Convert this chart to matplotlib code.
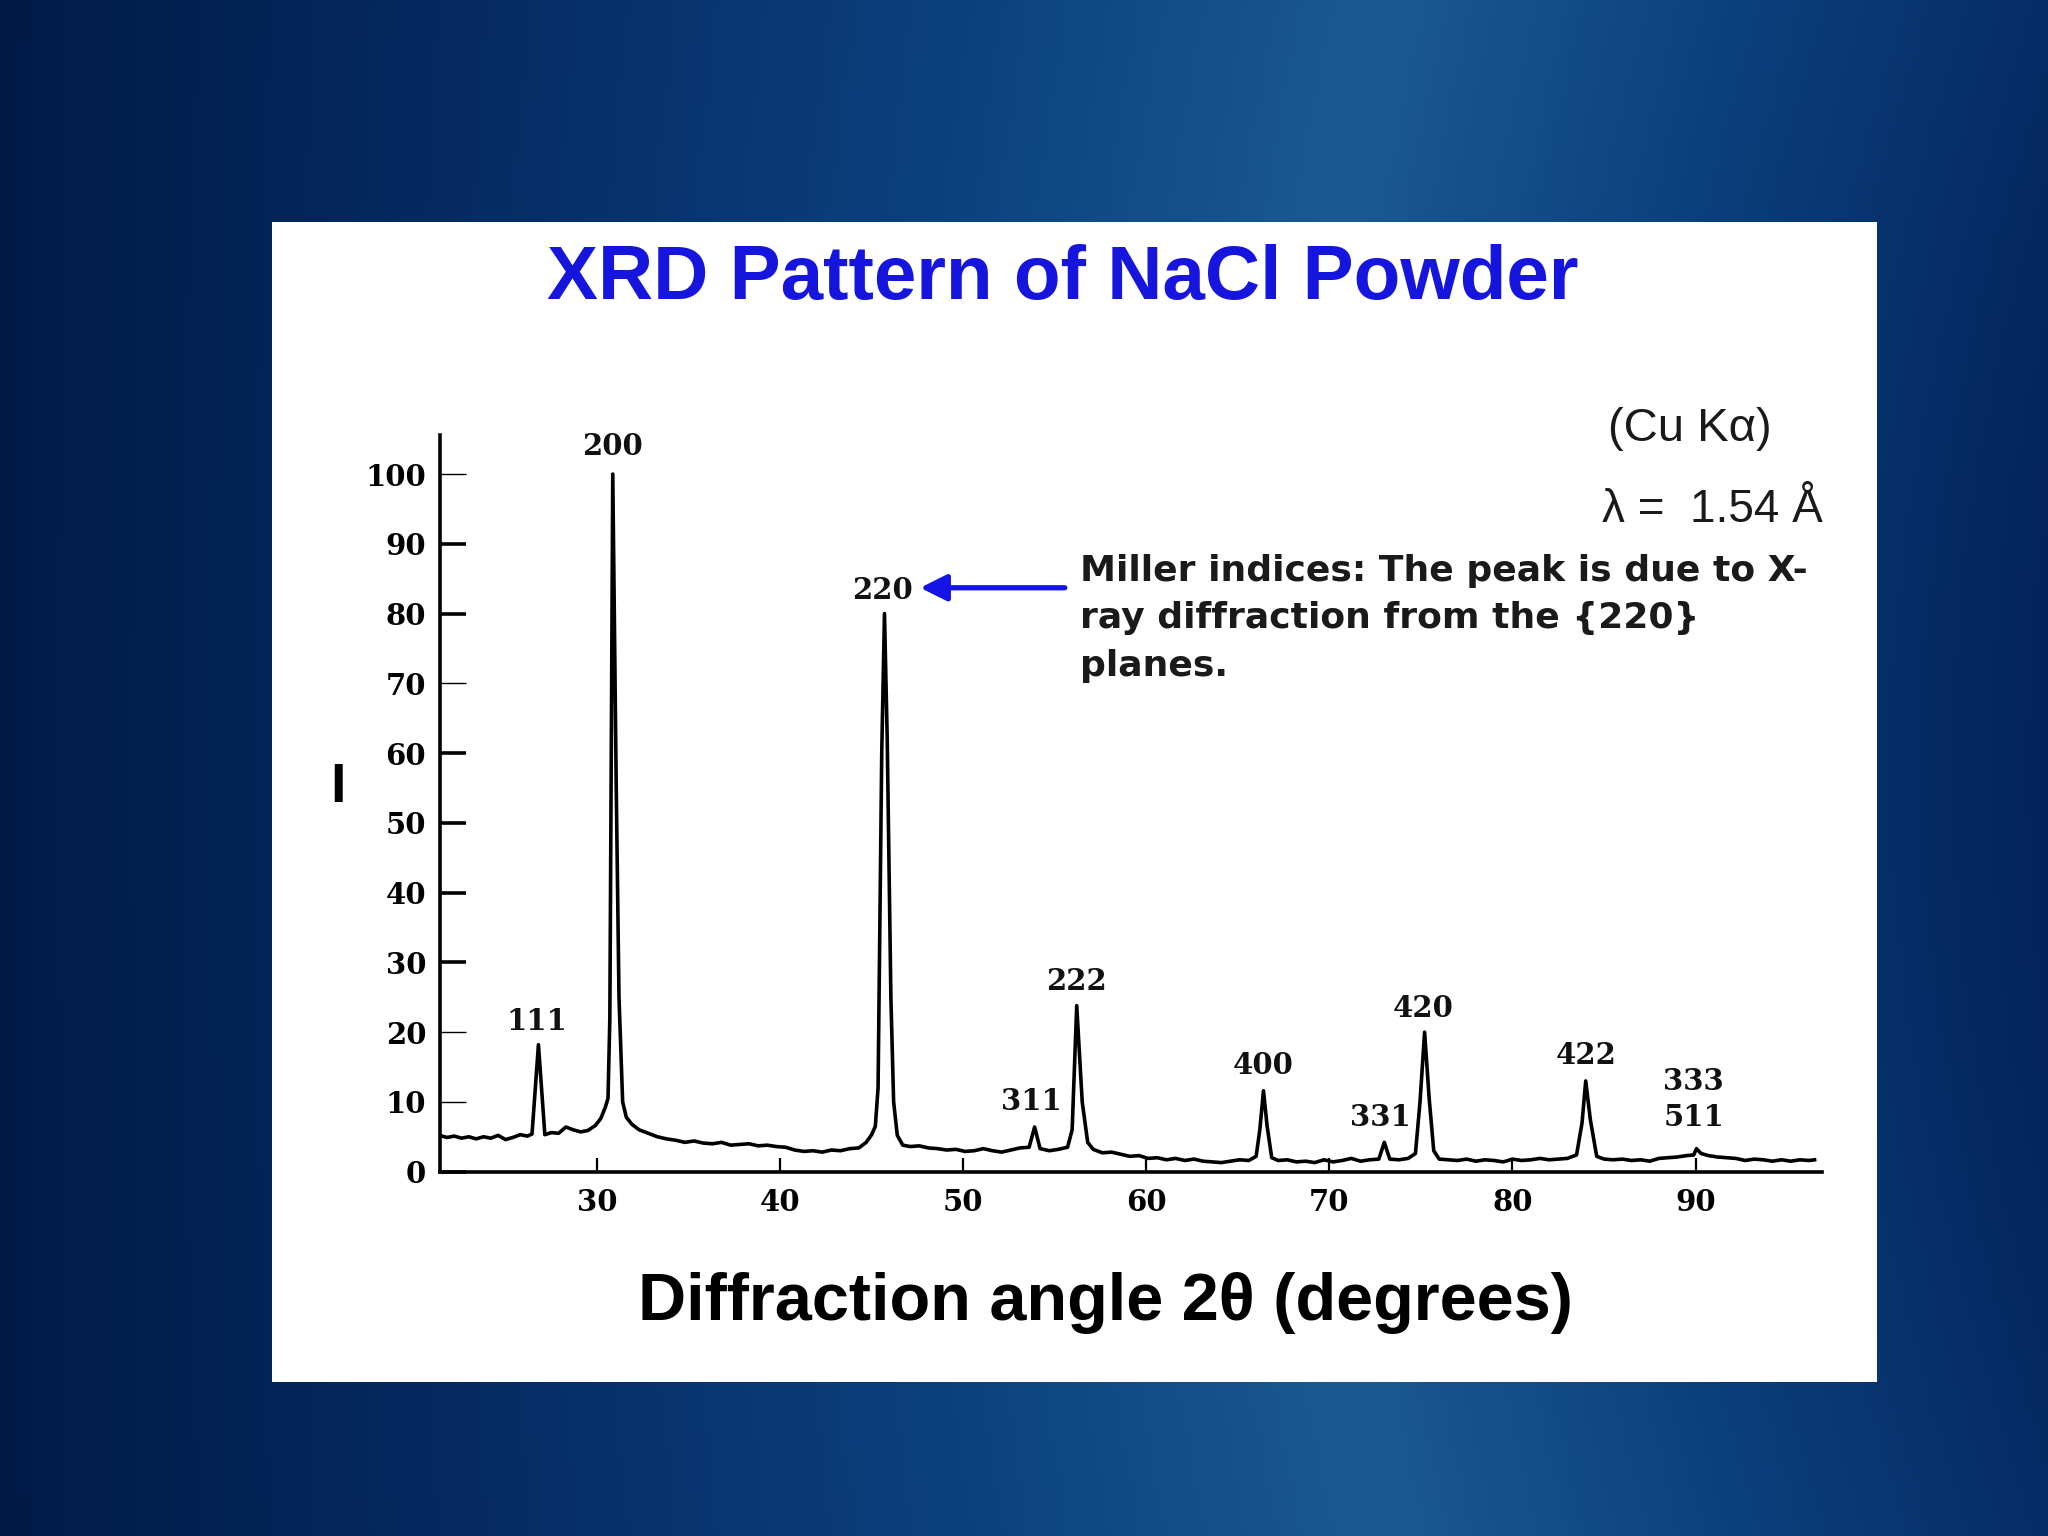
# XRD pattern of NaCl powder (Cu Ka), slide style
import numpy as np
import matplotlib.pyplot as plt
from matplotlib.colors import LinearSegmentedColormap
from matplotlib.patches import Rectangle


two_theta = [
    21.4, 21.8, 22.2, 22.6, 23.0, 23.4, 23.8, 24.2, 24.6, 25.0,
    25.4, 25.8, 26.2, 26.45, 26.8, 27.15, 27.5, 27.9, 28.3, 28.7,
    29.1, 29.5, 29.9, 30.2, 30.45, 30.6, 30.7, 30.78, 30.86, 30.95,
    31.05, 31.2, 31.4, 31.6, 31.9, 32.3, 32.8, 33.3, 33.8, 34.3,
    34.8, 35.3, 35.8, 36.3, 36.8, 37.3, 37.8, 38.3, 38.8, 39.3,
    39.8, 40.3, 40.8, 41.3, 41.8, 42.3, 42.8, 43.3, 43.8, 44.3,
    44.7, 45.0, 45.2, 45.35, 45.55, 45.7, 45.85, 46.05, 46.2, 46.4,
    46.7, 47.1, 47.6, 48.1, 48.6, 49.1, 49.6, 50.1, 50.6, 51.1,
    51.6, 52.1, 52.6, 53.1, 53.6, 53.9, 54.2, 54.7, 55.2, 55.7,
    55.95, 56.2, 56.5, 56.8, 57.1, 57.6, 58.1, 58.6, 59.1, 59.6,
    60.1, 60.6, 61.1, 61.6, 62.1, 62.6, 63.1, 63.6, 64.1, 64.6,
    65.1, 65.6, 66.0, 66.2, 66.4, 66.6, 66.85, 67.2, 67.7, 68.2,
    68.7, 69.2, 69.7, 70.2, 70.7, 71.2, 71.7, 72.2, 72.7, 73.0,
    73.3, 73.8, 74.3, 74.7, 74.95, 75.2, 75.45, 75.7, 76.0, 76.5,
    77.0, 77.5, 78.0, 78.5, 79.0, 79.5, 80.0, 80.5, 81.0, 81.5,
    82.0, 82.5, 83.0, 83.5, 83.8, 84.0, 84.25, 84.6, 85.0, 85.5,
    86.0, 86.5, 87.0, 87.5, 88.0, 88.5, 89.0, 89.5, 89.9, 90.05,
    90.3, 90.7, 91.2, 91.7, 92.2, 92.7, 93.2, 93.7, 94.2, 94.7,
    95.2, 95.7, 96.2, 96.5,
]
intensity = [
    5.2, 4.9, 5.1, 4.8, 5.0, 4.7, 5.0, 4.8, 5.2, 4.6,
    4.9, 5.3, 5.1, 5.4, 18.2, 5.3, 5.6, 5.5, 6.4, 6.0,
    5.7, 5.9, 6.6, 7.6, 9.2, 10.5, 22.0, 60.0, 100.0, 78.0,
    55.0, 25.0, 10.0, 7.8, 6.8, 6.0, 5.5, 5.0, 4.7, 4.5,
    4.2, 4.4, 4.1, 4.0, 4.2, 3.8, 3.9, 4.0, 3.7, 3.8,
    3.6, 3.5, 3.1, 2.9, 3.0, 2.8, 3.1, 3.0, 3.3, 3.4,
    4.2, 5.3, 6.5, 12.0, 60.0, 80.0, 62.0, 25.0, 10.0, 5.2,
    3.8, 3.6, 3.7, 3.4, 3.3, 3.1, 3.2, 2.9, 3.0, 3.3,
    3.0, 2.8, 3.1, 3.4, 3.5, 6.4, 3.3, 3.0, 3.2, 3.5,
    6.0, 23.8, 10.0, 4.2, 3.2, 2.7, 2.8, 2.5, 2.2, 2.3,
    1.9, 2.0, 1.7, 1.9, 1.6, 1.8, 1.5, 1.4, 1.3, 1.5,
    1.7, 1.6, 2.2, 6.0, 11.6, 6.5, 2.0, 1.6, 1.7, 1.4,
    1.5, 1.3, 1.7, 1.4, 1.6, 1.9, 1.5, 1.7, 1.8, 4.2,
    1.8, 1.7, 1.9, 2.6, 10.0, 20.0, 10.5, 3.0, 1.8, 1.7,
    1.6, 1.8, 1.5, 1.7, 1.6, 1.4, 1.8, 1.6, 1.7, 1.9,
    1.7, 1.8, 1.9, 2.4, 7.0, 13.0, 7.5, 2.2, 1.8, 1.7,
    1.8, 1.6, 1.7, 1.5, 1.9, 2.0, 2.1, 2.3, 2.4, 3.3,
    2.6, 2.3, 2.1, 2.0, 1.9, 1.6, 1.8, 1.7, 1.5, 1.7,
    1.5, 1.7, 1.6, 1.7,
]

# Miller index labels and where they sit (2theta, intensity)
hkl_labels = ["111", "200", "220", "311", "222", "400", "331", "420", "422", "333", "511"]
hkl_x = [26.7, 30.85, 45.6, 53.7, 56.2, 66.4, 72.8, 75.1, 84.0, 89.9, 89.9]
hkl_y = [21.5, 103.9, 83.3, 10.1, 27.3, 15.2, 7.7, 23.4, 16.7, 12.9, 7.7]

y_ticks = [0, 10, 20, 30, 40, 50, 60, 70, 80, 90, 100]
thin_ticks = [10, 20, 70, 100]
x_ticks = [30, 40, 50, 60, 70, 80, 90]

serif = "DejaVu Serif"
sans = "Liberation Sans"

fig = plt.figure(figsize=(20.48, 15.36), dpi=100)

# slide background: blue gradient
bg = fig.add_axes([0, 0, 1, 1], zorder=-10)
cmap = LinearSegmentedColormap.from_list(
    "slide",
    [(0.0, "#021a48"), (0.2, "#052a60"), (0.45, "#0c4280"),
     (0.63, "#1c5994"), (0.8, "#0b3f7b"), (1.0, "#03245a")])
gx = np.linspace(0, 1, 400)
gy = np.linspace(0, 1, 300)
GX, GY = np.meshgrid(gx, gy)
shade = GX * (0.93 + 0.07 * np.sin(np.pi * GY))
bg.imshow(shade, cmap=cmap, aspect="auto", extent=[0, 1, 0, 1], vmin=0, vmax=1)
bg.axis("off")

# white panel
fig.patches.append(Rectangle((0.1327, 0.1003), 0.7838, 0.7551, transform=fig.transFigure,
                             facecolor="white", edgecolor="none", zorder=-5))

fig.text(0.519, 0.818, "XRD Pattern of NaCl Powder", color="#1515dd",
         fontsize=55, fontweight="bold", family=sans, ha="center", va="center")

ax = fig.add_axes([0.2149, 0.2372, 0.6747, 0.4796])
ax.patch.set_alpha(0)
ax.plot(two_theta, intensity, color="black", linewidth=2.6)
ax.set_xlim(21.43, 96.9)
ax.set_ylim(0, 105.6)

for side in ["top", "right"]:
    ax.spines[side].set_visible(False)
for side in ["left", "bottom"]:
    ax.spines[side].set_linewidth(2.6)

ax.set_yticks(y_ticks)
ax.set_xticks(x_ticks)
ax.tick_params(axis="y", direction="in", length=19, width=2.6, pad=10, labelsize=21)
ax.tick_params(axis="x", direction="in", length=10, width=1.6, pad=12, labelsize=21)
for lab in ax.get_xticklabels() + ax.get_yticklabels():
    lab.set_family(serif)
    lab.set_fontweight("bold")
for tick, val in zip(ax.yaxis.get_major_ticks(), y_ticks):
    if val in thin_ticks:
        tick.tick1line.set_markeredgewidth(1.0)
        tick.tick1line.set_color("#555555")

for lab, x, y in zip(hkl_labels, hkl_x, hkl_y):
    ax.text(x, y, lab, fontsize=21, fontweight="bold", family=serif,
            ha="center", va="center", color="#111111")

ax.annotate("", xy=(47.5, 83.7), xytext=(55.7, 83.7),
            arrowprops=dict(arrowstyle="-|>", color="#1414e6", lw=3.8, mutation_scale=40))

ax.text(56.4, 88.6, "Miller indices: The peak is due to X-\nray diffraction from the {220}\nplanes.",
        fontsize=26, fontweight="bold", family="DejaVu Sans", ha="left", va="top",
        linespacing=1.5, color="#1a1a1a")

fig.text(0.825, 0.721, "(Cu K\u03b1)", fontsize=34, family=sans,
         ha="center", va="center", color="#1a1a1a")
fig.text(0.836, 0.668, "\u03bb =  1.54 \u00c5", fontsize=33, family=sans,
         ha="center", va="center", color="#1a1a1a")

fig.text(0.165, 0.487, "I", fontsize=40, fontweight="bold", family=sans,
         ha="center", va="center", color="black")
fig.text(0.540, 0.152, "Diffraction angle 2\u03b8 (degrees)", fontsize=48, fontweight="bold",
         family=sans, ha="center", va="center", color="black")

fig.savefig("out.png", dpi=100)
